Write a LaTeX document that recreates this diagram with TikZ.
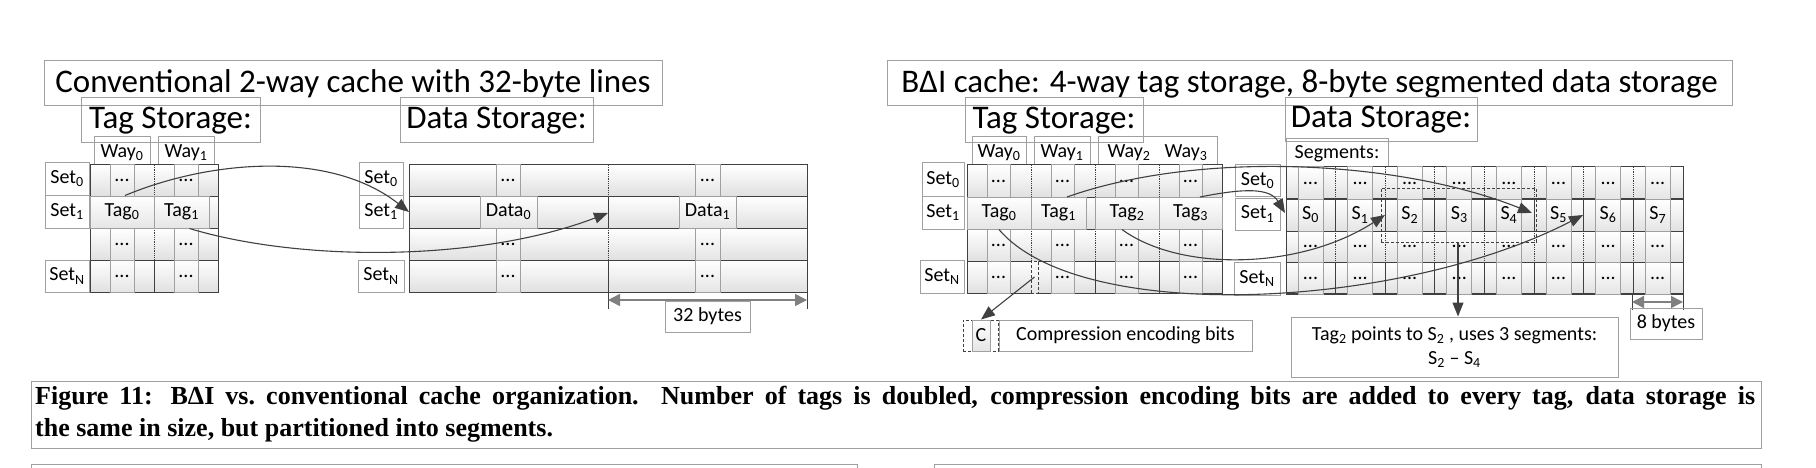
\documentclass[tikz,border=0pt]{standalone}
\usepackage{fontspec}
\setmainfont{Carlito}
\newfontfamily\capfont{Liberation Serif}
\usetikzlibrary{arrows.meta}
\definecolor{boxgray}{HTML}{A0A0A0}
\definecolor{linegray}{HTML}{404040}
\tikzset{
  lbl/.style={draw=boxgray, line width=1pt, inner sep=0pt},
  cellbox/.style={draw=boxgray, line width=1pt, inner sep=0pt, top color=white, bottom color=black!10},
  rowbg/.style={draw=linegray, line width=1pt, top color=white, bottom color=black!12},
  conn/.style={draw=linegray, line width=1.1pt, -{Triangle[length=14pt,width=11pt]}},
  dimarr/.style={draw=gray, line width=1.5pt, {Triangle[length=12pt,width=12pt]}-{Triangle[length=12pt,width=12pt]}},
  small/.style={font=\fontsize{20}{22}\selectfont},
  big/.style={font=\fontsize{33}{36}\selectfont}
}
% \bx{name}{x1}{y1}{x2}{y2}{style}{text}
\newcommand{\bx}[7]{\node[#6, minimum width={((#4)-(#2))*1pt}, minimum height={((#5)-(#3))*1pt}] (#1) at ({((#2)+(#4))/2},{((#3)+(#5))/2}) {#7};}
\newcommand{\sub}[1]{\textsubscript{#1}}
\begin{document}
\begin{tikzpicture}[x=1pt,y=-1pt]
\useasboundingbox (0,0) rectangle (1816,468);

% ================= LEFT =================
\bx{ltitle}{44}{61}{662}{106}{lbl,big}{Conventional 2-way cache with 32-byte lines}
\bx{ltag}{81}{98}{260}{143}{lbl,big}{Tag Storage:}
\bx{ldata}{400}{98}{593}{143}{lbl,big}{Data Storage:}
\bx{lw0}{94}{137}{150}{168}{lbl,small}{Way\sub{0}}
\bx{lw1}{158}{137}{214}{168}{lbl,small}{Way\sub{1}}
\foreach \a/\b in {165/196,196/228,228/260,260/292}{
  \shade[rowbg] (90,\a) rectangle (218,\b);
  \shade[rowbg] (409,\a) rectangle (807,\b);
}
\draw[linegray,densely dotted,line width=0.8pt] (154,165) -- (154,196) (154,228) -- (154,260);
\draw[linegray,line width=1pt] (154,196) -- (154,228) (154,260) -- (154,292);
\draw[linegray,densely dotted,line width=0.8pt] (608,165) -- (608,196) (608,228) -- (608,260);
\draw[linegray,line width=1pt] (608,196) -- (608,228) (608,260) -- (608,292);
\foreach \a/\b/\n in {165/196/0,228/260/2,260/292/3}{
  \bx{lt\n a}{110}{\a}{134}{\b}{cellbox,small}{...}
  \bx{lt\n b}{174}{\a}{198}{\b}{cellbox,small}{...}
  \bx{ld\n a}{496}{\a}{520}{\b}{cellbox,small}{...}
  \bx{ld\n b}{695}{\a}{720}{\b}{cellbox,small}{...}
}
\bx{ltag0}{90}{196}{154}{228}{cellbox,small}{Tag\sub{0}}
\bx{ltag1}{154}{196}{209}{228}{cellbox,small}{Tag\sub{1}}
\bx{ldat0}{480}{196}{537}{228}{cellbox,small}{Data\sub{0}}
\bx{ldat1}{679}{196}{736}{228}{cellbox,small}{Data\sub{1}}
\bx{ls0}{45}{163}{89}{195}{lbl,small}{Set\sub{0}}
\bx{ls1}{45}{195}{89}{228}{lbl,small}{Set\sub{1}}
\bx{lsn}{45}{260}{89}{292}{lbl,small}{Set\sub{N}}
\bx{lds0}{359}{163}{403}{195}{lbl,small}{Set\sub{0}}
\bx{lds1}{359}{195}{403}{228}{lbl,small}{Set\sub{1}}
\bx{ldsn}{358}{260}{404}{292}{lbl,small}{Set\sub{N}}
\coordinate (lrow1) at (409,212);
\coordinate (lway1) at (608,213);
\draw[conn] ([xshift=3pt]ltag0.north) .. controls (210,160) and (330,150) .. (lrow1);
\draw[conn] ([xshift=-20pt]ltag1.south east) .. controls (300,262) and (480,262) .. (lway1);
\coordinate (lb1) at (608,300); \coordinate (lb2) at (807,300);
\draw[linegray,line width=0.8pt] (608,293) -- (608,309) (807,293) -- (807,309);
\draw[dimarr] (lb1) -- (lb2);
\bx{l32}{665}{301}{750}{332}{lbl,small}{32 bytes}

% ================= RIGHT =================
\bx{rtitle}{887}{61}{1732}{106}{lbl,big}{BΔI cache: 4-way tag storage, 8-byte segmented data storage}
\bx{rtag}{965}{98}{1143}{143}{lbl,big}{Tag Storage:}
\bx{rdata}{1285}{98}{1477}{142}{lbl,big}{Data Storage:}
\bx{rw0}{972}{137}{1026}{168}{lbl,small}{Way\sub{0}}
\bx{rw1}{1034}{137}{1090}{168}{lbl,small}{Way\sub{1}}
\bx{rw23}{1098}{137}{1217}{168}{lbl,small}{Way\sub{2}\hspace{14pt}Way\sub{3}}
\bx{rseg}{1286}{139}{1388}{168}{lbl,small}{Segments:}
\foreach \a/\b in {165/197,197/229,229/261,261/293}{
  \shade[rowbg] (967,\a) rectangle (1222,\b);
}
\foreach \a/\b in {167/199,199/231,231/262,262/294}{
  \shade[rowbg] (1286,\a) rectangle (1683,\b);
}
\foreach \c in {1031,1095,1159}{
  \draw[linegray,densely dotted,line width=0.8pt] (\c,165) -- (\c,197) (\c,229) -- (\c,261);
  \draw[linegray,line width=1pt] (\c,197) -- (\c,229) (\c,261) -- (\c,293);
}
\foreach \k in {1,...,7}{
  \pgfmathsetmacro{\c}{1286+\k*49.6}
  \draw[linegray,densely dotted,line width=0.8pt] (\c,167) -- (\c,199) (\c,231) -- (\c,262);
  \draw[linegray,line width=1pt] (\c,199) -- (\c,231) (\c,262) -- (\c,294);
}
\draw[linegray,line width=2pt] (1286,199) -- (1683,199) (1286,294) -- (1683,294);
\foreach \a/\b/\n in {165/197/0,229/261/2,261/293/3}{
  \foreach \c/\m in {967/a,1031/b,1095/c,1159/d}{
    \bx{rt\n\m}{\c+20}{\a}{\c+43}{\b}{cellbox,small}{...}
  }
}
\foreach \a/\b/\n in {167/199/0,231/262/2,262/294/3}{
  \foreach \k in {0,...,7}{
    \bx{rd\n\k}{1286+\k*49.6+12}{\a}{1286+\k*49.6+37}{\b}{cellbox,small}{...}
  }
}
\foreach \k in {0,...,7}{
  \bx{rs\k}{1286+\k*49.6+12}{199}{1286+\k*49.6+37}{231}{cellbox,small}{S\sub{\k}}
}
\bx{rtag0}{967}{197}{1031}{229}{cellbox,small}{Tag\sub{0}}
\bx{rtag1}{1031}{197}{1086}{229}{cellbox,small}{Tag\sub{1}}
\bx{rtag2}{1095}{197}{1159}{229}{cellbox,small}{Tag\sub{2}}
\bx{rtag3}{1159}{197}{1222}{229}{cellbox,small}{Tag\sub{3}}
\bx{rcbit}{1031}{261}{1038}{293}{cellbox,densely dashed,draw=linegray}{}
\bx{rss0}{922}{163}{964}{196}{lbl,small}{Set\sub{0}}
\bx{rss1}{922}{196}{964}{229}{lbl,small}{Set\sub{1}}
\bx{rssn}{920}{260}{964}{293}{lbl,small}{Set\sub{N}}
\bx{rds0}{1235}{165}{1280}{196}{lbl,small}{Set\sub{0}}
\bx{rds1}{1235}{198}{1280}{230}{lbl,small}{Set\sub{1}}
\bx{rdsn}{1234}{262}{1280}{295}{lbl,small}{Set\sub{N}}
\bx{rgrp}{1381}{188}{1536}{242}{draw=linegray,densely dashed,line width=0.8pt}{}
\bx{rcout}{963}{320}{998}{351}{draw=linegray,densely dashed,line width=0.8pt}{}
\bx{rc}{972}{320}{990}{351}{cellbox,small}{C}
\bx{rcomp}{999}{320}{1252}{351}{lbl,small}{Compression encoding bits}
\bx{rnote}{1291}{317}{1618}{377}{lbl,small,align=center}{Tag\sub{2} points to S\sub{2} , uses 3 segments:\\[2pt] S\sub{2} -- S\sub{4}}
\coordinate (rb1) at (1632,302); \coordinate (rb2) at (1683,302);
\draw[linegray,line width=0.8pt] (1632,294) -- (1632,310) (1683,294) -- (1683,310);
\draw[dimarr] (rb1) -- (rb2);
\bx{r8}{1630}{308}{1702}{339}{lbl,small}{8 bytes}
\coordinate (ps0) at (1285,213);
\coordinate (ps1) at (1385,215);
\coordinate (ps4) at (1532,213);
\coordinate (ps5) at (1583,215);
\draw[conn] (1067,197) .. controls (1200,150) and (1400,160) .. (ps4);
\draw[conn] (1200,197) .. controls (1245,188) and (1270,188) .. (ps0);
\draw[conn] ([xshift=-5pt]rtag2.south) .. controls (1180,272) and (1300,270) .. (ps1);
\draw[conn] (rtag0.south) .. controls (1080,325) and (1400,310) .. (ps5);
\draw[conn] (rcbit.center) -- (rc.north);
\draw[conn] (rgrp.south -| 1458,0) -- (rnote.north -| 1458,0);

% ================= CAPTION =================
\node[draw=boxgray, line width=1pt, minimum width=1730pt, minimum height=67pt, inner sep=0pt] (capbox) at (896,414.5) {};
\node[anchor=west, inner sep=0pt, font=\capfont\bfseries\fontsize{26}{32}\selectfont, align=left] (cap) at (35,414) {\makebox[1720pt][s]{Figure 11: BΔI vs.\ conventional cache organization. Number of tags is doubled, compression encoding bits are added to every tag, data storage is}\\the same in size, but partitioned into segments.};
\draw[boxgray, line width=1pt] (31,470) -- (31,464) -- (857,464) -- (857,470);
\draw[boxgray, line width=1pt] (934,470) -- (934,464) -- (1761,464) -- (1761,470);
\end{tikzpicture}
\end{document}
